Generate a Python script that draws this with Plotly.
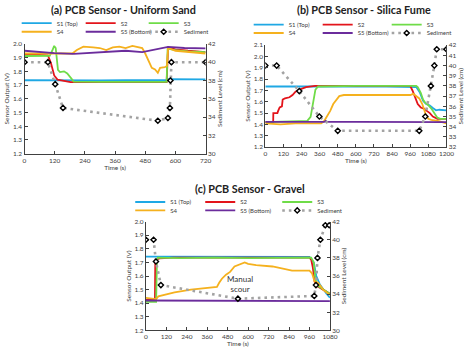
import plotly.graph_objects as go

# ---------------- (a) PCB Sensor - Uniform Sand ----------------
a_s1_t = [0, 100, 200, 300, 400, 500, 565, 572, 650, 720]
a_s1_v = [1.735, 1.733, 1.735, 1.734, 1.735, 1.734, 1.735, 1.743, 1.742, 1.742]
a_s2_t = [0, 60, 93, 105, 111, 118, 131, 157, 183, 300, 450, 565, 571, 600, 650, 720]
a_s2_v = [1.925, 1.922, 1.917, 1.86, 1.81, 1.77, 1.74, 1.73, 1.722, 1.722, 1.722, 1.722, 1.975, 1.96, 1.95, 1.94]
a_s3_t = [0, 60, 100, 110, 118, 124, 128, 133, 141, 150, 157, 170, 183, 196, 300, 450, 565, 569, 600, 650, 720]
a_s3_v = [1.912, 1.91, 1.913, 1.95, 1.985, 1.97, 1.89, 1.81, 1.795, 1.80, 1.80, 1.785, 1.755, 1.725,
          1.724, 1.724, 1.724, 1.965, 1.955, 1.945, 1.94]
a_s4_t = [0, 100, 190, 208, 234, 273, 299, 325, 351, 377, 402, 429, 455, 468, 480, 494, 506, 519,
          530, 539, 558, 566, 571, 600, 650, 720]
a_s4_v = [1.93, 1.93, 1.93, 1.955, 1.98, 1.975, 1.97, 1.955, 1.975, 1.98, 1.97, 1.985, 1.975, 1.97,
          1.93, 1.875, 1.826, 1.814, 1.79, 1.826, 1.83, 1.84, 1.97, 1.95, 1.94, 1.93]
a_s5_t = [0, 40, 118, 196, 250, 299, 350, 402, 468, 519, 571, 636, 720]
a_s5_v = [1.95, 1.943, 1.933, 1.928, 1.935, 1.94, 1.945, 1.95, 1.94, 1.957, 1.978, 1.97, 1.967]
a_sed_t = [0, 93, 122, 153, 530, 570, 578, 580, 584, 720]
a_sed_v = [40, 40, 37.6, 35, 33.6, 33.9, 35, 38, 40, 40]

# ---------------- (b) PCB Sensor - Silica Fume ----------------
b_s1_t = [0, 200, 400, 600, 800, 1000, 1023, 1045, 1066, 1088, 1110, 1131, 1153, 1200]
b_s1_v = [1.735, 1.733, 1.735, 1.735, 1.734, 1.73, 1.685, 1.61, 1.58, 1.57, 1.545, 1.525, 1.53, 1.525]
b_s2_t = [0, 52, 53, 80, 85, 95, 110, 115, 130, 160, 180, 200, 230, 270, 330, 960, 975, 990, 1010,
          1030, 1050, 1070, 1090, 1110, 1140, 1200]
b_s2_v = [1.42, 1.42, 1.50, 1.50, 1.52, 1.55, 1.56, 1.62, 1.63, 1.64, 1.66, 1.69, 1.71, 1.73, 1.74,
          1.74, 1.70, 1.65, 1.58, 1.55, 1.54, 1.52, 1.50, 1.47, 1.45, 1.45]
b_s3_t = [0, 278, 300, 311, 322, 332, 350, 600, 1000, 1010, 1030, 1045, 1060, 1080, 1100, 1120, 1140,
          1160, 1200]
b_s3_v = [1.42, 1.432, 1.467, 1.54, 1.627, 1.708, 1.735, 1.74, 1.74, 1.73, 1.68, 1.62, 1.59, 1.57,
          1.54, 1.50, 1.46, 1.45, 1.45]
b_s4_t = [0, 100, 200, 370, 390, 410, 430, 450, 470, 490, 520, 700, 960, 980, 1000, 1020, 1040, 1060,
          1080, 1100, 1150, 1200]
b_s4_v = [1.41, 1.40, 1.41, 1.41, 1.43, 1.47, 1.52, 1.58, 1.62, 1.65, 1.66, 1.66, 1.66, 1.67, 1.65,
          1.63, 1.58, 1.50, 1.45, 1.44, 1.43, 1.41]
b_s5_t = [0, 200, 390, 400, 410, 600, 800, 1000, 1200]
b_s5_v = [1.422, 1.422, 1.422, 1.432, 1.422, 1.422, 1.421, 1.422, 1.42]
b_sed_t = [0, 75, 225, 358, 480, 1020, 1060, 1097, 1120, 1136, 1200]
b_sed_v = [40, 40, 37.5, 35, 33.6, 33.6, 35, 38, 40, 41.6, 41.6]

# ---------------- (c) PCB Sensor - Gravel ----------------
c_s1_t = [0, 200, 400, 600, 800, 960, 985, 1000, 1020, 1040, 1060, 1080]
c_s1_v = [1.742, 1.741, 1.742, 1.741, 1.742, 1.741, 1.70, 1.60, 1.54, 1.50, 1.47, 1.44]
c_s2_t = [0, 53, 55, 60, 80, 160, 500, 960, 970, 980, 990, 1000, 1040, 1080]
c_s2_v = [1.425, 1.425, 1.70, 1.72, 1.73, 1.735, 1.735, 1.735, 1.72, 1.66, 1.56, 1.53, 1.50, 1.47]
c_s3_t = [0, 60, 65, 70, 200, 400, 600, 800, 970, 985, 995, 1005, 1040, 1080]
c_s3_v = [1.41, 1.41, 1.72, 1.735, 1.732, 1.735, 1.732, 1.735, 1.735, 1.70, 1.58, 1.53, 1.50, 1.47]
c_s4_t = [0, 40, 60, 73, 168, 264, 360, 417, 430, 446, 470, 494, 520, 560, 580, 600, 647, 743, 858,
          960, 975, 990, 1011, 1040, 1080]
c_s4_v = [1.44, 1.43, 1.43, 1.45, 1.48, 1.50, 1.51, 1.52, 1.55, 1.58, 1.61, 1.63, 1.67, 1.69, 1.70,
          1.69, 1.68, 1.67, 1.64, 1.64, 1.62, 1.56, 1.55, 1.50, 1.46]
c_s5_t = [0, 200, 400, 600, 800, 1000, 1080]
c_s5_v = [1.42, 1.42, 1.42, 1.42, 1.418, 1.416, 1.415]
c_sed_t = [0, 45, 59, 88, 540, 988, 998, 1007, 1024, 1053, 1076]
c_sed_v = [40, 40, 37.6, 35, 33.5, 33.8, 35, 38, 40, 41.6, 41.6]

names = ["S1 (Top)", "S2", "S3", "S4", "S5 (Bottom)"]
colors = ["#1fa8e4", "#e3141b", "#6fdc48", "#f5b11e", "#6b2c9c"]
sed_color = "#a3a3a3"
FONT = "Lato"
AX = "#404040"

W, H = 474, 354
def px(x):
    return x / W
def py(y):
    return 1 - y / H

panels = [
    dict(x="x", y="y", y2="y2",
         data=[(a_s1_t, a_s1_v), (a_s2_t, a_s2_v), (a_s3_t, a_s3_v), (a_s4_t, a_s4_v), (a_s5_t, a_s5_v)],
         sed=(a_sed_t, a_sed_v), legs=("legend", "legend2"), colw=(19, 18, 20)),
    dict(x="x2", y="y3", y2="y4",
         data=[(b_s1_t, b_s1_v), (b_s2_t, b_s2_v), (b_s3_t, b_s3_v), (b_s4_t, b_s4_v), (b_s5_t, b_s5_v)],
         sed=(b_sed_t, b_sed_v), legs=("legend3", "legend4"), colw=(24, 24, 24)),
    dict(x="x3", y="y5", y2="y6",
         data=[(c_s1_t, c_s1_v), (c_s2_t, c_s2_v), (c_s3_t, c_s3_v), (c_s4_t, c_s4_v), (c_s5_t, c_s5_v)],
         sed=(c_sed_t, c_sed_v), legs=("legend5", "legend6"), colw=(25, 32, 30)),
]

fig = go.Figure()
for p in panels:
    for i, (t, v) in enumerate(p["data"]):
        fig.add_trace(go.Scatter(x=t, y=v, mode="lines", name=names[i],
                                 line=dict(color=colors[i], width=1.8),
                                 xaxis=p["x"], yaxis=p["y"], legendwidth=p["colw"][i % 3],
                                 legend=p["legs"][0] if i < 3 else p["legs"][1]))
    st, sv = p["sed"]
    fig.add_trace(go.Scatter(x=st, y=sv, mode="lines+markers", name="Sediment",
                             line=dict(color=sed_color, width=2.6, dash="2.6px,4px"),
                             marker=dict(symbol="diamond", size=4, color="white",
                                         line=dict(color="black", width=1.4)),
                             legendwidth=p["colw"][2],
                             xaxis=p["x"], yaxis=p["y2"], legend=p["legs"][1]))

axis_common = dict(showline=True, linecolor=AX, linewidth=1.2, ticks="inside", ticklen=3,
                   tickcolor=AX, showgrid=False, zeroline=False,
                   tickfont=dict(family=FONT, size=6.5, color=AX))
title_font = dict(family=FONT, size=6.5, color=AX)

def xax(dom, anchor, rng, dt):
    return dict(axis_common, domain=dom, anchor=anchor, range=rng, tickmode="linear", tick0=0, dtick=dt,
                title=dict(text="Time (s)", font=title_font, standoff=2))

def yax(dom, anchor, rng, dt):
    return dict(axis_common, domain=dom, anchor=anchor, range=rng, tickmode="linear", tick0=0, dtick=dt,
                tickformat=".1f", title=dict(text="Sensor Output (V)", font=title_font, standoff=2))

def y2ax(over, anchor, rng, dt):
    return dict(axis_common, overlaying=over, side="right", anchor=anchor, range=rng, tickmode="linear",
                tick0=0, dtick=dt, title=dict(text="Sediment Level (cm)", font=title_font, standoff=2))

a_dom_x, a_dom_y = [px(23), px(208)], [py(152.7), py(40.7)]
b_dom_x, b_dom_y = [px(269), px(454)], [py(146), py(42)]
c_dom_x, c_dom_y = [px(147), px(335)], [py(333), py(222)]

leg_common = dict(orientation="h", xanchor="left", yanchor="top", bgcolor="rgba(0,0,0,0)",
                  borderwidth=0, font=dict(family=FONT, size=6.0, color=AX), itemwidth=30,
                  tracegroupgap=0)
OFF = 14.5  # legend top to item centre

fig.update_layout(
    width=W, height=H, margin=dict(l=0, r=0, t=0, b=0), paper_bgcolor="white", plot_bgcolor="white",
    showlegend=True,
    xaxis=xax(a_dom_x, "y", [0, 720], 120),
    yaxis=yax(a_dom_y, "x", [1.2, 2.0], 0.1),
    yaxis2=y2ax("y", "x", [30, 42], 2),
    xaxis2=xax(b_dom_x, "y3", [0, 1200], 120),
    yaxis3=yax(b_dom_y, "x2", [1.2, 2.1], 0.1),
    yaxis4=y2ax("y3", "x2", [32, 42], 1),
    xaxis3=xax(c_dom_x, "y5", [0, 1080], 120),
    yaxis5=yax(c_dom_y, "x3", [1.2, 2.0], 0.1),
    yaxis6=y2ax("y5", "x3", [30, 42], 2),
    legend=dict(leg_common, x=px(15), y=py(19.3 - OFF)),
    legend2=dict(leg_common, x=px(15), y=py(28 - OFF)),
    legend3=dict(leg_common, x=px(252), y=py(20.7 - OFF)),
    legend4=dict(leg_common, x=px(252), y=py(29.3 - OFF)),
    legend5=dict(leg_common, x=px(131), y=py(201.7 - OFF)),
    legend6=dict(leg_common, x=px(131), y=py(210.3 - OFF)),
)

ttl = dict(family=FONT, size=10.8, color="#222222")
fig.add_annotation(text="<b>(a) PCB Sensor - Uniform Sand</b>", x=px(124.5), y=py(5.5), xref="paper",
                   yref="paper", showarrow=False, font=ttl, xanchor="center", yanchor="middle")
fig.add_annotation(text="<b>(b) PCB Sensor - Silica Fume</b>", x=px(370), y=py(5.5), xref="paper",
                   yref="paper", showarrow=False, font=ttl, xanchor="center", yanchor="middle")
fig.add_annotation(text="<b>(c) PCB Sensor - Gravel</b>", x=px(253), y=py(188.7), xref="paper",
                   yref="paper", showarrow=False, font=ttl, xanchor="center", yanchor="middle")
fig.add_annotation(text="Manual<br>scour", x=551, y=1.54, xref="x3", yref="y5", showarrow=False,
                   font=dict(family=FONT, size=8, color="#333333"), align="center")

fig.write_html("out.html")
